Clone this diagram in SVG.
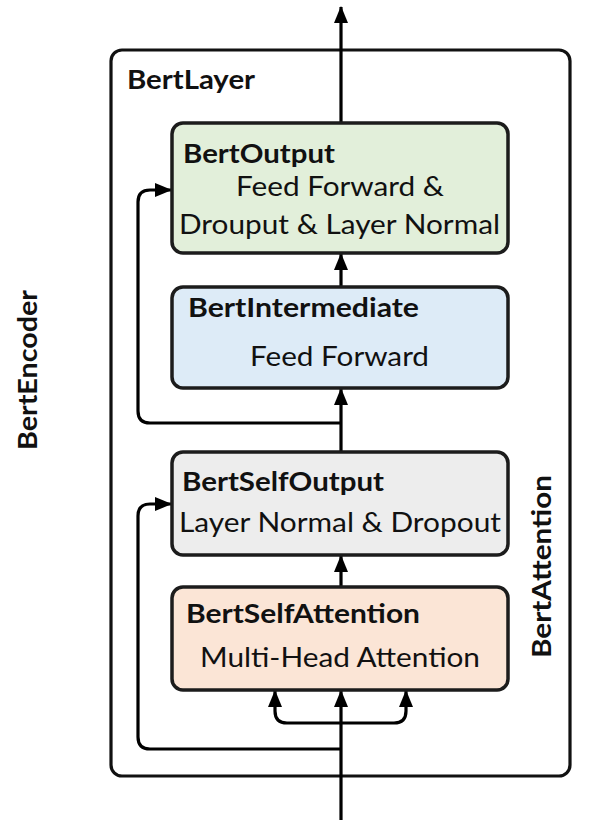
<svg xmlns="http://www.w3.org/2000/svg" width="592" height="838" viewBox="0 0 592 838">
  <style>
    .box { stroke: #1c1c1c; stroke-width: 3.5; }
    .wire { fill: none; stroke: #000; stroke-width: 3.2; stroke-linejoin: round; }
    .title { font-family: Lato, "Liberation Sans", sans-serif; font-weight: bold; font-size: 26px; fill: #111; }
    .body { font-family: Lato, "Liberation Sans", sans-serif; font-size: 27px; fill: #111; }
  </style>
  <defs>
    <marker id="arrow" markerUnits="userSpaceOnUse" markerWidth="18" markerHeight="18" viewBox="0 0 18 18" refX="16" refY="9" orient="auto">
      <path d="M0,2 L17,9 L0,16 Z" fill="#000"/>
    </marker>
  </defs>
  <rect width="592" height="838" fill="#fff"/>

  <g id="BertLayer">
    <rect x="111" y="50" width="459" height="726" rx="11" fill="none" stroke="#111" stroke-width="3.2"/>
    <text class="title" x="127" y="89" textLength="128" lengthAdjust="spacingAndGlyphs">BertLayer</text>
  </g>

  <g id="BertEncoder">
    <text class="title" x="37" y="450" textLength="160" lengthAdjust="spacingAndGlyphs" transform="rotate(-90 37 450)">BertEncoder</text>
  </g>

  <g id="BertAttention">
    <text class="title" x="551" y="658" textLength="183" lengthAdjust="spacingAndGlyphs" transform="rotate(-90 551 658)">BertAttention</text>
  </g>

  <g id="connectors">
    <line class="wire" x1="341" y1="820" x2="341" y2="691" marker-end="url(#arrow)"/>
    <path class="wire" d="M341,723 H287 Q275,723 275,711 V691" marker-end="url(#arrow)"/>
    <path class="wire" d="M341,723 H394 Q406,723 406,711 V691" marker-end="url(#arrow)"/>
    <line class="wire" x1="341" y1="587" x2="341" y2="556" marker-end="url(#arrow)"/>
    <line class="wire" x1="341" y1="452" x2="341" y2="389" marker-end="url(#arrow)"/>
    <line class="wire" x1="341" y1="287" x2="341" y2="254" marker-end="url(#arrow)"/>
    <line class="wire" x1="341" y1="123" x2="341" y2="7" marker-end="url(#arrow)"/>
    <path class="wire" d="M341,749 H150 Q138,749 138,737 V516 Q138,504 150,504 H171" marker-end="url(#arrow)"/>
    <path class="wire" d="M341,423 H150 Q138,423 138,411 V202 Q138,190 150,190 H171" marker-end="url(#arrow)"/>
  </g>

  <g id="BertOutput">
    <rect class="box" x="172" y="123" width="336" height="130" rx="11" fill="#e2efda"/>
    <text class="title" x="183" y="163" textLength="152" lengthAdjust="spacingAndGlyphs">BertOutput</text>
    <text class="body" x="236" y="196" textLength="208" lengthAdjust="spacingAndGlyphs">Feed Forward &amp;</text>
    <text class="body" x="179" y="234" textLength="321" lengthAdjust="spacingAndGlyphs">Drouput &amp; Layer Normal</text>
  </g>

  <g id="BertIntermediate">
    <rect class="box" x="172" y="287" width="336" height="101" rx="11" fill="#ddebf7"/>
    <text class="title" x="188" y="317" textLength="231" lengthAdjust="spacingAndGlyphs">BertIntermediate</text>
    <text class="body" x="250" y="366" textLength="179" lengthAdjust="spacingAndGlyphs">Feed Forward</text>
  </g>

  <g id="BertSelfOutput">
    <rect class="box" x="172" y="452" width="336" height="103" rx="11" fill="#ededed"/>
    <text class="title" x="182" y="491" textLength="202" lengthAdjust="spacingAndGlyphs">BertSelfOutput</text>
    <text class="body" x="179" y="532" textLength="322" lengthAdjust="spacingAndGlyphs">Layer Normal &amp; Dropout</text>
  </g>

  <g id="BertSelfAttention">
    <rect class="box" x="172" y="587" width="336" height="103" rx="11" fill="#fbe5d6"/>
    <text class="title" x="186" y="623" textLength="234" lengthAdjust="spacingAndGlyphs">BertSelfAttention</text>
    <text class="body" x="200" y="667" textLength="280" lengthAdjust="spacingAndGlyphs">Multi-Head Attention</text>
  </g>
</svg>
